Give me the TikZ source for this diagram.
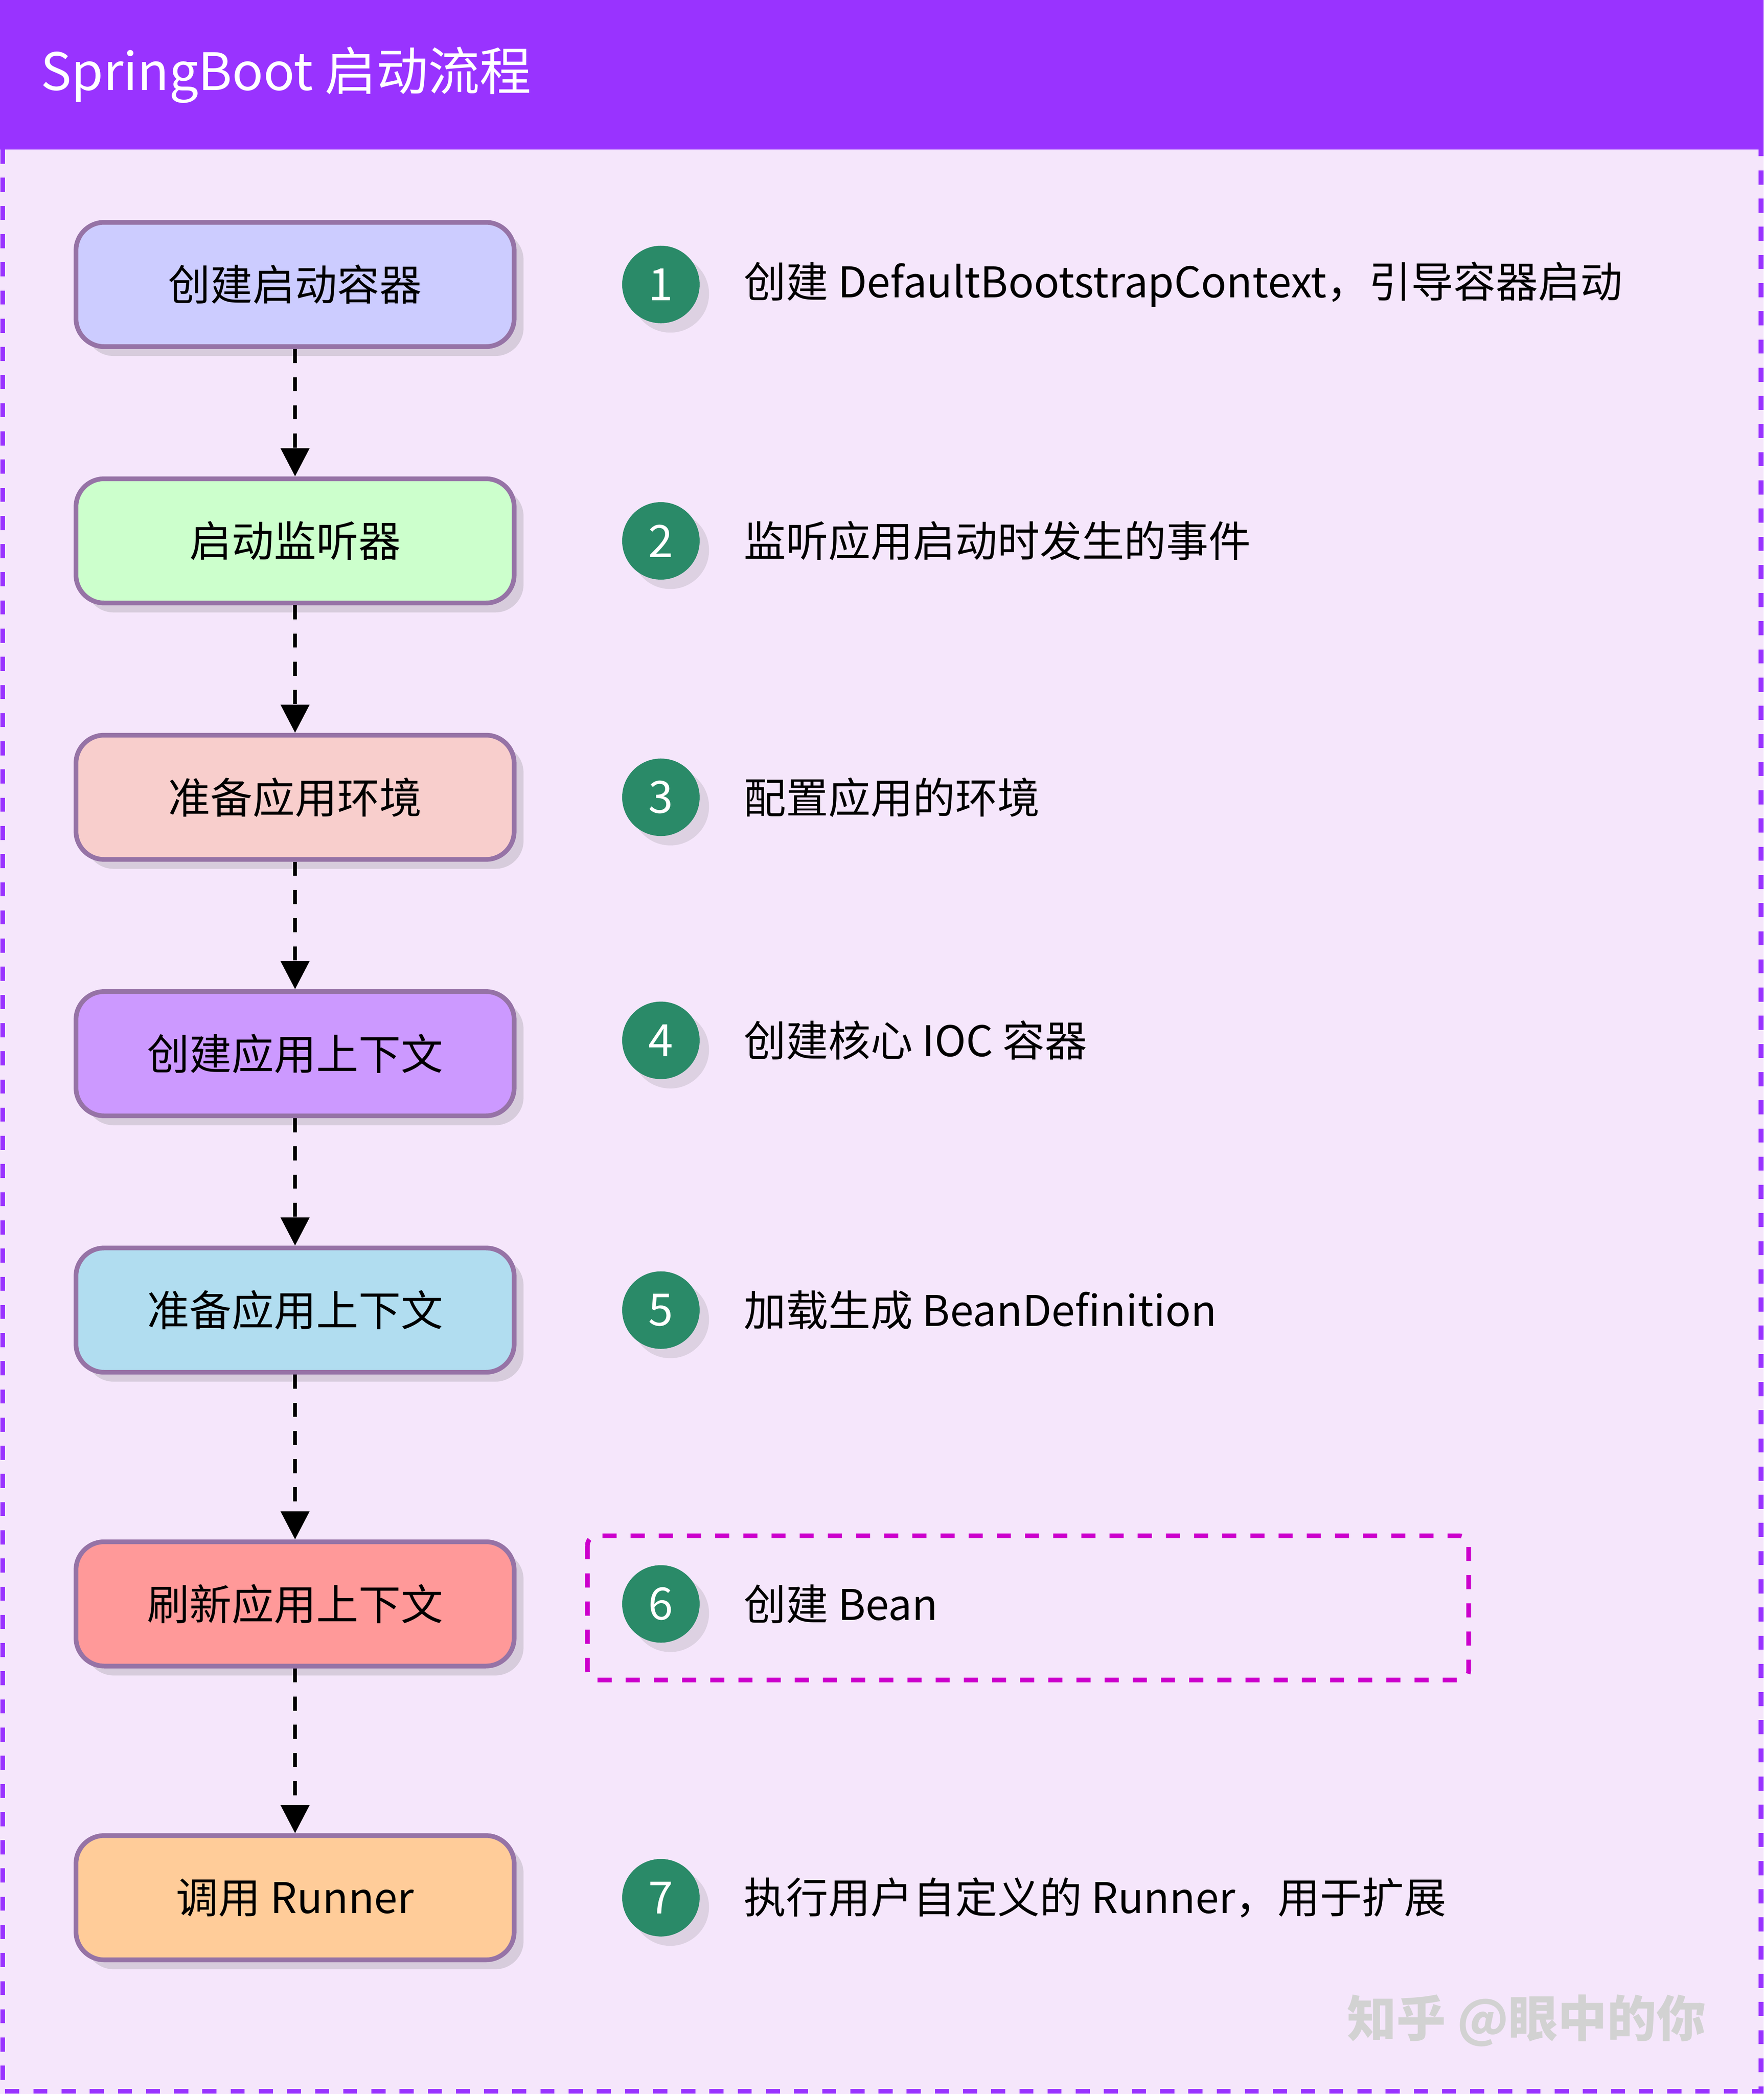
\documentclass[tikz,border=0pt]{standalone}
\usepackage{fontspec}
\setmainfont{Noto Sans CJK SC}
\usepackage{tikz}
\usetikzlibrary{positioning, arrows.meta, shadows}

\definecolor{headpurple}{HTML}{9933FF}
\definecolor{paper}{HTML}{F5E6FB}
\definecolor{stepgreen}{HTML}{2A8A68}
\definecolor{edgegray}{HTML}{9673A6}
\definecolor{markbox}{HTML}{CC00CC}

\begin{document}
\begin{tikzpicture}[
            x=0.01cm, y=-0.01cm,
            stage/.style={rectangle, draw=edgegray, line width=1pt, rounded corners=6pt, minimum width=3.28cm, minimum height=0.93cm, font=\fontsize{9}{11}\selectfont, drop shadow={opacity=0.25, shadow xshift=2pt, shadow yshift=-2pt}},
            num/.style={circle, fill=stepgreen, text=white, minimum size=0.58cm, inner sep=0pt, font=\fontsize{9.5}{11}\selectfont, drop shadow={opacity=0.2, shadow xshift=2pt, shadow yshift=-2pt}},
            desc/.style={anchor=west, font=\fontsize{9}{11}\selectfont},
            arrow/.style={-{Triangle[length=6pt, width=6pt]}, dashed, line width=0.8pt}
        ]
        % Background and header
        \useasboundingbox (0,0) rectangle (1321,1568);
        \fill[paper] (0,112) rectangle (1321,1568);
        \draw[headpurple, dashed, line width=1pt] (2,112) -- (2,1566) -- (1319,1566) -- (1319,112);
        \fill[headpurple] (0,0) rectangle (1321,112);
        \node[anchor=west, text=white, font=\fontsize{11}{13}\selectfont] (title) at (18,56) {SpringBoot 启动流程};

        % Steps
        \node[stage, fill={rgb,255:red,204;green,204;blue,255}] (create) at (221,213) {创建启动容器};
        \node[stage, fill={rgb,255:red,204;green,255;blue,204}] (listen) at (221,405) {启动监听器};
        \node[stage, fill={rgb,255:red,248;green,206;blue,204}] (env) at (221,597) {准备应用环境};
        \node[stage, fill={rgb,255:red,204;green,153;blue,255}] (ctx) at (221,789) {创建应用上下文};
        \node[stage, fill={rgb,255:red,177;green,221;blue,240}] (prep) at (221,981) {准备应用上下文};
        \node[stage, fill={rgb,255:red,255;green,153;blue,153}] (refresh) at (221,1201) {刷新应用上下文};
        \node[stage, fill={rgb,255:red,255;green,204;blue,153}] (runner) at (221,1421) {调用 Runner};

        \draw[arrow] (create) -- (listen);
        \draw[arrow] (listen) -- (env);
        \draw[arrow] (env) -- (ctx);
        \draw[arrow] (ctx) -- (prep);
        \draw[arrow] (prep) -- (refresh);
        \draw[arrow] (refresh) -- (runner);

        % Descriptions
        \draw[markbox, dashed, line width=1pt, rounded corners=2pt] (440,1150) rectangle (1100,1258);
        \foreach \n/\y/\t in {1/213/{创建 DefaultBootstrapContext，引导容器启动},
                              2/405/{监听应用启动时发生的事件},
                              3/597/{配置应用的环境},
                              4/779/{创建核心 IOC 容器},
                              5/981/{加载生成 BeanDefinition},
                              6/1201/{创建 Bean},
                              7/1421/{执行用户自定义的 Runner，用于扩展}} {
            \node[num] (n\n) at (495,\y) {\n};
            \node[desc, right=0.2cm of n\n] (d\n) {\t};
        }

        \node[anchor=east, text=gray!35, font=\fontsize{10.5}{12}\selectfont\bfseries] (mark) at (1290,1513) {知乎 @眼中的你};
    \end{tikzpicture}
\end{document}
